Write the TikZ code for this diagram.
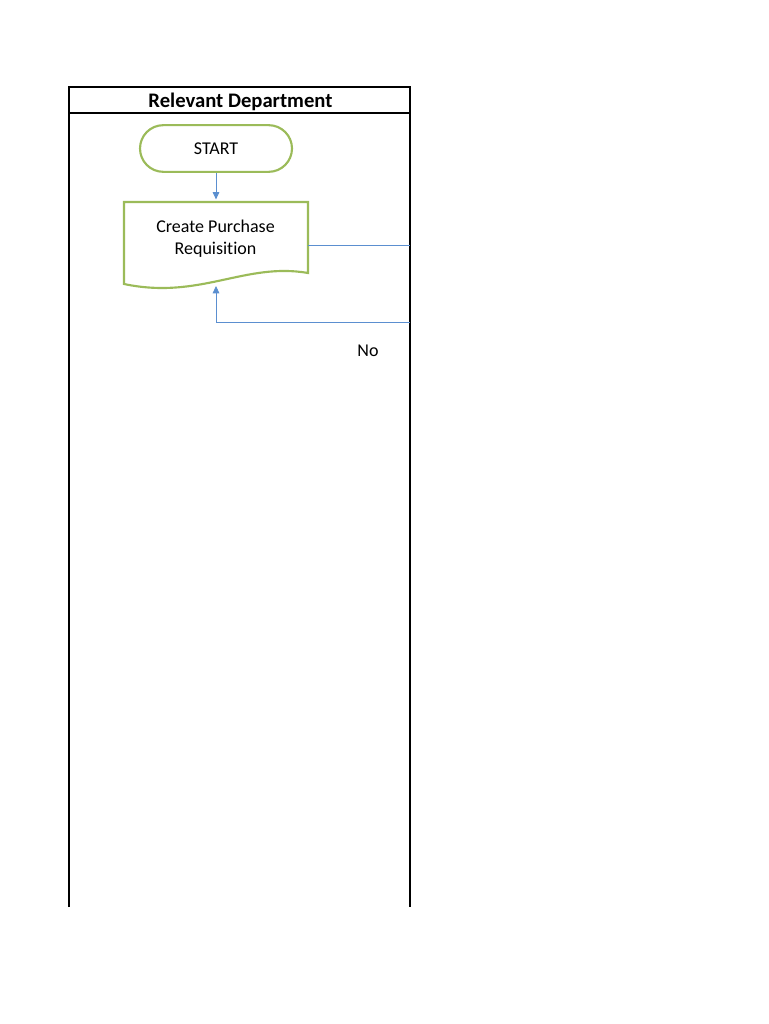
\documentclass[tikz,border=0pt]{standalone}
\usepackage{fontspec}
\setmainfont{Carlito}[Ligatures={NoCommon}]
\usepackage{xcolor}
\usetikzlibrary{arrows.meta,shapes.misc}
\definecolor{flowgreen}{HTML}{9BBB59}
\definecolor{flowblue}{HTML}{5B8FD0}

\begin{document}
\begin{tikzpicture}[x=0.75pt,y=0.75pt,yscale=-1,xscale=1,
	lane/.style={line width=2.1pt,black},
	terminal/.style={rounded rectangle,draw=flowgreen,line width=1.6pt,minimum width=114pt,minimum height=35pt,inner sep=0pt,font=\fontsize{13.5}{16}\selectfont},
	docbox/.style={minimum width=138pt,minimum height=68pt,inner sep=0pt},
	link/.style={draw=flowblue,line width=0.6pt},
	tip/.style={-{Triangle[length=5.5pt,width=5pt]}}]
	\useasboundingbox (0,0) rectangle (768,1024);
	% swim lane
	\draw [lane] (69,907) -- (69,87) -- (410,87) -- (410,907) ;
	\draw [line width=1.1pt] (69,113) -- (410,113) ;
	\node (head) at (240.5,101.5) {\fontsize{15.5}{18}\selectfont\bfseries Relevant Department};
	% shapes
	\node [terminal] (start) at (216,148.5) {START};
	\node [docbox] (req) at (216,245) {};
	\draw [draw=flowgreen,line width=1.6pt] (124,284) -- (124,202) -- (308,202) -- (308,273) .. controls (245,262) and (200,300) .. (124,284) -- cycle ;
	\node [font=\fontsize{13.5}{16.5}\selectfont,align=center] (reqtext) at (215.5,239) {Create Purchase\\Requisition};
	\coordinate (lanea) at (410,245);
	\coordinate (laneb) at (410,322);
	\coordinate (reqbot) at (216,286);
	% connectors
	\draw [link,tip] (start.south) -- (req.north) ;
	\draw [link] (req.east) -- (lanea) ;
	\draw [link,tip] (laneb) -| (reqbot) ;
	\node [font=\fontsize{13.5}{16}\selectfont] (no) at (368,351) {No};
\end{tikzpicture}
\end{document}
